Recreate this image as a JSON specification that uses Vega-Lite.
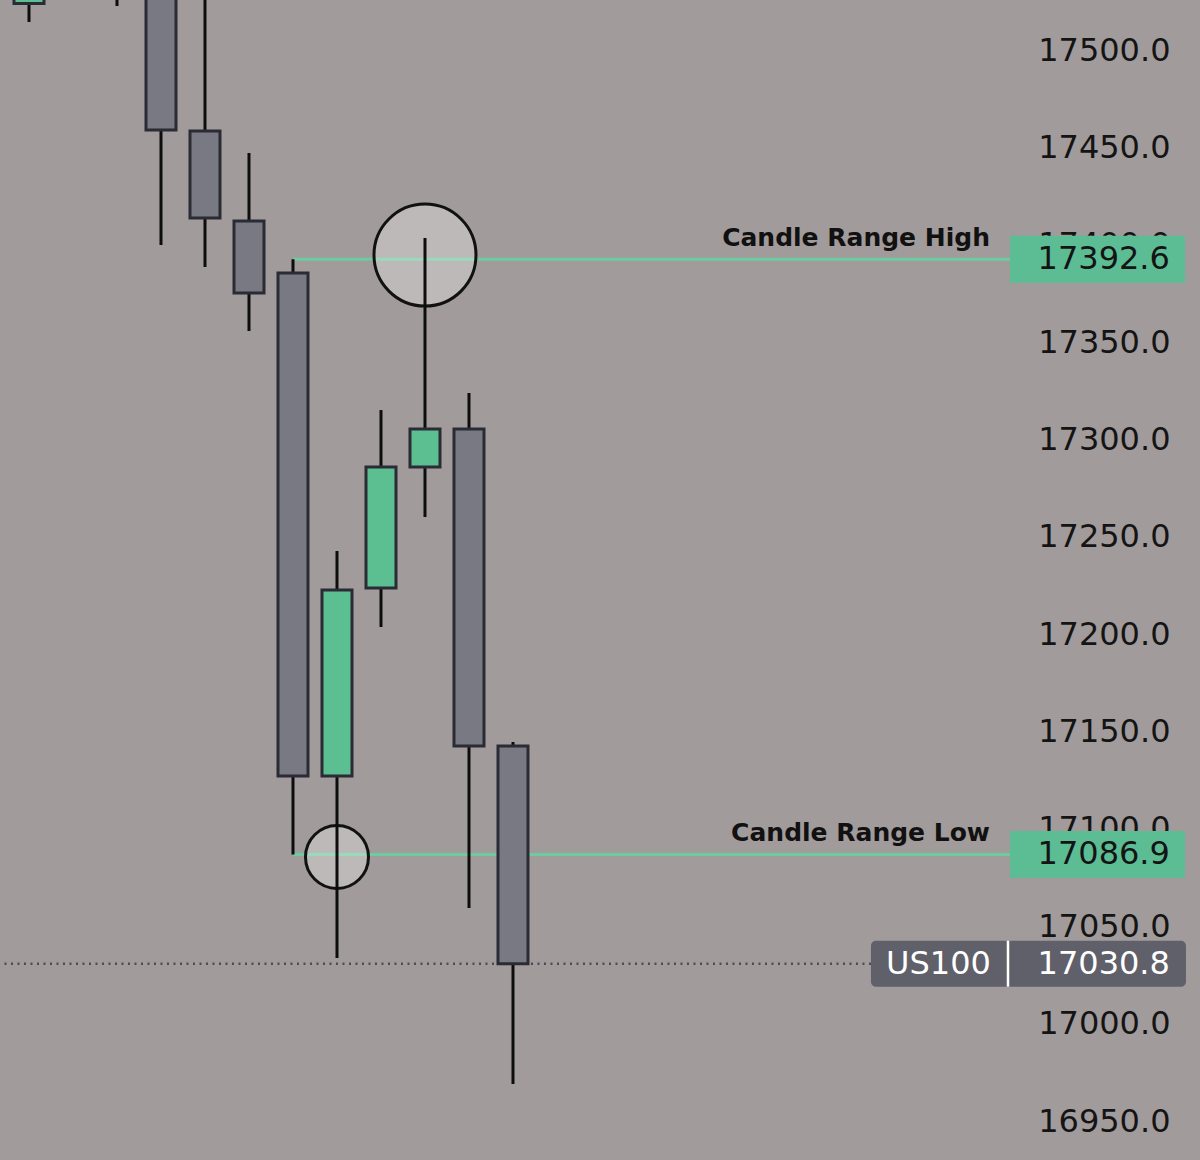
{
  "$schema": "https://vega.github.io/schema/vega-lite/v6.json",
  "width": 1200,
  "height": 1160,
  "padding": 0,
  "autosize": {"type": "none"},
  "background": "#a19b9b",
  "config": {"view": {"stroke": null}},
  "datasets": {
    "candles": [
      {"i": 0, "open": 17523.9, "close": 17545.0, "high": 17552.0, "low": 17514.4},
      {"i": 1, "open": 17560.0, "close": 17590.0, "high": 17600.0, "low": 17540.0},
      {"i": 2, "open": 17595.0, "close": 17560.0, "high": 17605.0, "low": 17522.6},
      {"i": 3, "open": 17560.0, "close": 17458.9, "high": 17570.0, "low": 17399.9},
      {"i": 4, "open": 17458.4, "close": 17413.7, "high": 17535.0, "low": 17388.6},
      {"i": 5, "open": 17412.2, "close": 17375.2, "high": 17447.1, "low": 17355.7},
      {"i": 6, "open": 17385.5, "close": 17127.2, "high": 17392.6, "low": 17086.9},
      {"i": 7, "open": 17127.2, "close": 17222.7, "high": 17242.7, "low": 17033.7},
      {"i": 8, "open": 17223.7, "close": 17285.9, "high": 17315.1, "low": 17203.7},
      {"i": 9, "open": 17285.9, "close": 17305.4, "high": 17403.5, "low": 17260.2},
      {"i": 10, "open": 17305.4, "close": 17142.6, "high": 17323.9, "low": 17059.4},
      {"i": 11, "open": 17142.6, "close": 17030.8, "high": 17144.6, "low": 16969.0}
    ],
    "levels": [
      {"label": "Candle Range High", "price": 17392.6},
      {"label": "Candle Range Low", "price": 17086.9}
    ],
    "last": [
      {"symbol": "US100", "price": 17030.8}
    ]
  },
  "encoding": {
    "x": {"type": "quantitative", "scale": {"domain": [-0.659, 26.614], "nice": false, "zero": false, "padding": 0}, "axis": null},
    "y": {"type": "quantitative", "scale": {"domain": [16929.98, 17525.68], "nice": false, "zero": false, "padding": 0}}
  },
  "layer": [
    {
      "data": {"name": "levels"},
      "mark": {"type": "rule", "stroke": "#6ccb9f", "strokeWidth": 3, "clip": true},
      "encoding": {
        "x": {"datum": 6},
        "x2": {"datum": 22.3},
        "y": {"field": "price", "type": "quantitative",
          "axis": {"orient": "right", "offset": -30, "values": [16950, 17000, 17050, 17100, 17150, 17200, 17250, 17300, 17350, 17400, 17450, 17500],
            "format": ".1f", "title": null, "domain": false, "ticks": false, "grid": false,
            "labelAlign": "right", "labelBaseline": "middle", "labelPadding": 0,
            "labelFont": "DejaVu Sans", "labelFontSize": 32, "labelColor": "#141414", "labelOverlap": false, "labelFlush": false}}
      }
    },
    {
      "data": {"values": [{"i": 9, "price": 17394.7}]},
      "mark": {"type": "point", "shape": "circle", "filled": true, "size": 10404, "fill": "#ffffff", "fillOpacity": 0.3, "stroke": "#111111", "strokeWidth": 3, "strokeOpacity": 1, "clip": true},
      "encoding": {
        "x": {"field": "i", "type": "quantitative"},
        "y": {"field": "price", "type": "quantitative"}
      }
    },
    {
      "data": {"values": [{"i": 7, "price": 17085.6}]},
      "mark": {"type": "point", "shape": "circle", "filled": true, "size": 3969, "fill": "#ffffff", "fillOpacity": 0.3, "stroke": "#111111", "strokeWidth": 3, "strokeOpacity": 1, "clip": true},
      "encoding": {
        "x": {"field": "i", "type": "quantitative"},
        "y": {"field": "price", "type": "quantitative"}
      }
    },
    {
      "data": {"name": "last"},
      "mark": {"type": "rule", "stroke": "#4e4d57", "strokeWidth": 2.5, "strokeDash": [2, 4.5], "clip": true},
      "encoding": {
        "x": {"datum": -1},
        "x2": {"datum": 19.136},
        "y": {"field": "price", "type": "quantitative"}
      }
    },
    {
      "data": {"name": "candles"},
      "mark": {"type": "rule", "stroke": "#0d0d0d", "strokeWidth": 3, "clip": true},
      "encoding": {
        "x": {"field": "i", "type": "quantitative"},
        "y": {"field": "low", "type": "quantitative"},
        "y2": {"field": "high"}
      }
    },
    {
      "data": {"name": "candles"},
      "mark": {"type": "bar", "size": 30, "stroke": "#2b2b36", "strokeWidth": 3, "clip": true},
      "encoding": {
        "x": {"field": "i", "type": "quantitative"},
        "y": {"field": "open", "type": "quantitative"},
        "y2": {"field": "close"},
        "fill": {"condition": {"test": "datum.close > datum.open", "value": "#5cbf91"}, "value": "#797983"}
      }
    },
    {
      "data": {"name": "levels"},
      "mark": {"type": "text", "align": "right", "baseline": "alphabetic", "dy": -13, "font": "DejaVu Sans", "fontWeight": "bold", "fontSize": 25, "fill": "#111111"},
      "encoding": {
        "x": {"datum": 21.84},
        "y": {"field": "price", "type": "quantitative"},
        "text": {"field": "label"}
      }
    },
    {
      "data": {"name": "levels"},
      "mark": {"type": "rect", "fill": "#5cbd94", "yOffset": -23.5, "y2Offset": 23.5},
      "encoding": {
        "x": {"datum": 22.295},
        "x2": {"datum": 26.273},
        "y": {"field": "price", "type": "quantitative"},
        "y2": {"field": "price"}
      }
    },
    {
      "data": {"name": "levels"},
      "mark": {"type": "text", "align": "right", "baseline": "middle", "font": "DejaVu Sans", "fontSize": 32, "fill": "#141414"},
      "encoding": {
        "x": {"datum": 25.93},
        "y": {"field": "price", "type": "quantitative"},
        "text": {"field": "price", "type": "quantitative", "format": ".1f"}
      }
    },
    {
      "data": {"name": "last"},
      "mark": {"type": "rect", "fill": "#60606b", "cornerRadius": 5, "yOffset": -23, "y2Offset": 23},
      "encoding": {
        "x": {"datum": 19.136},
        "x2": {"datum": 26.295},
        "y": {"field": "price", "type": "quantitative"},
        "y2": {"field": "price"}
      }
    },
    {
      "data": {"name": "last"},
      "mark": {"type": "rule", "stroke": "#ffffff", "strokeWidth": 2.5, "yOffset": -23, "y2Offset": 23},
      "encoding": {
        "x": {"datum": 22.25},
        "y": {"field": "price", "type": "quantitative"},
        "y2": {"field": "price"}
      }
    },
    {
      "data": {"name": "last"},
      "mark": {"type": "text", "align": "center", "baseline": "middle", "font": "DejaVu Sans", "fontSize": 32, "fill": "#ffffff"},
      "encoding": {
        "x": {"datum": 20.67},
        "y": {"field": "price", "type": "quantitative"},
        "text": {"field": "symbol"}
      }
    },
    {
      "data": {"name": "last"},
      "mark": {"type": "text", "align": "right", "baseline": "middle", "font": "DejaVu Sans", "fontSize": 32, "fill": "#ffffff"},
      "encoding": {
        "x": {"datum": 25.93},
        "y": {"field": "price", "type": "quantitative"},
        "text": {"field": "price", "type": "quantitative", "format": ".1f"}
      }
    }
  ]
}
